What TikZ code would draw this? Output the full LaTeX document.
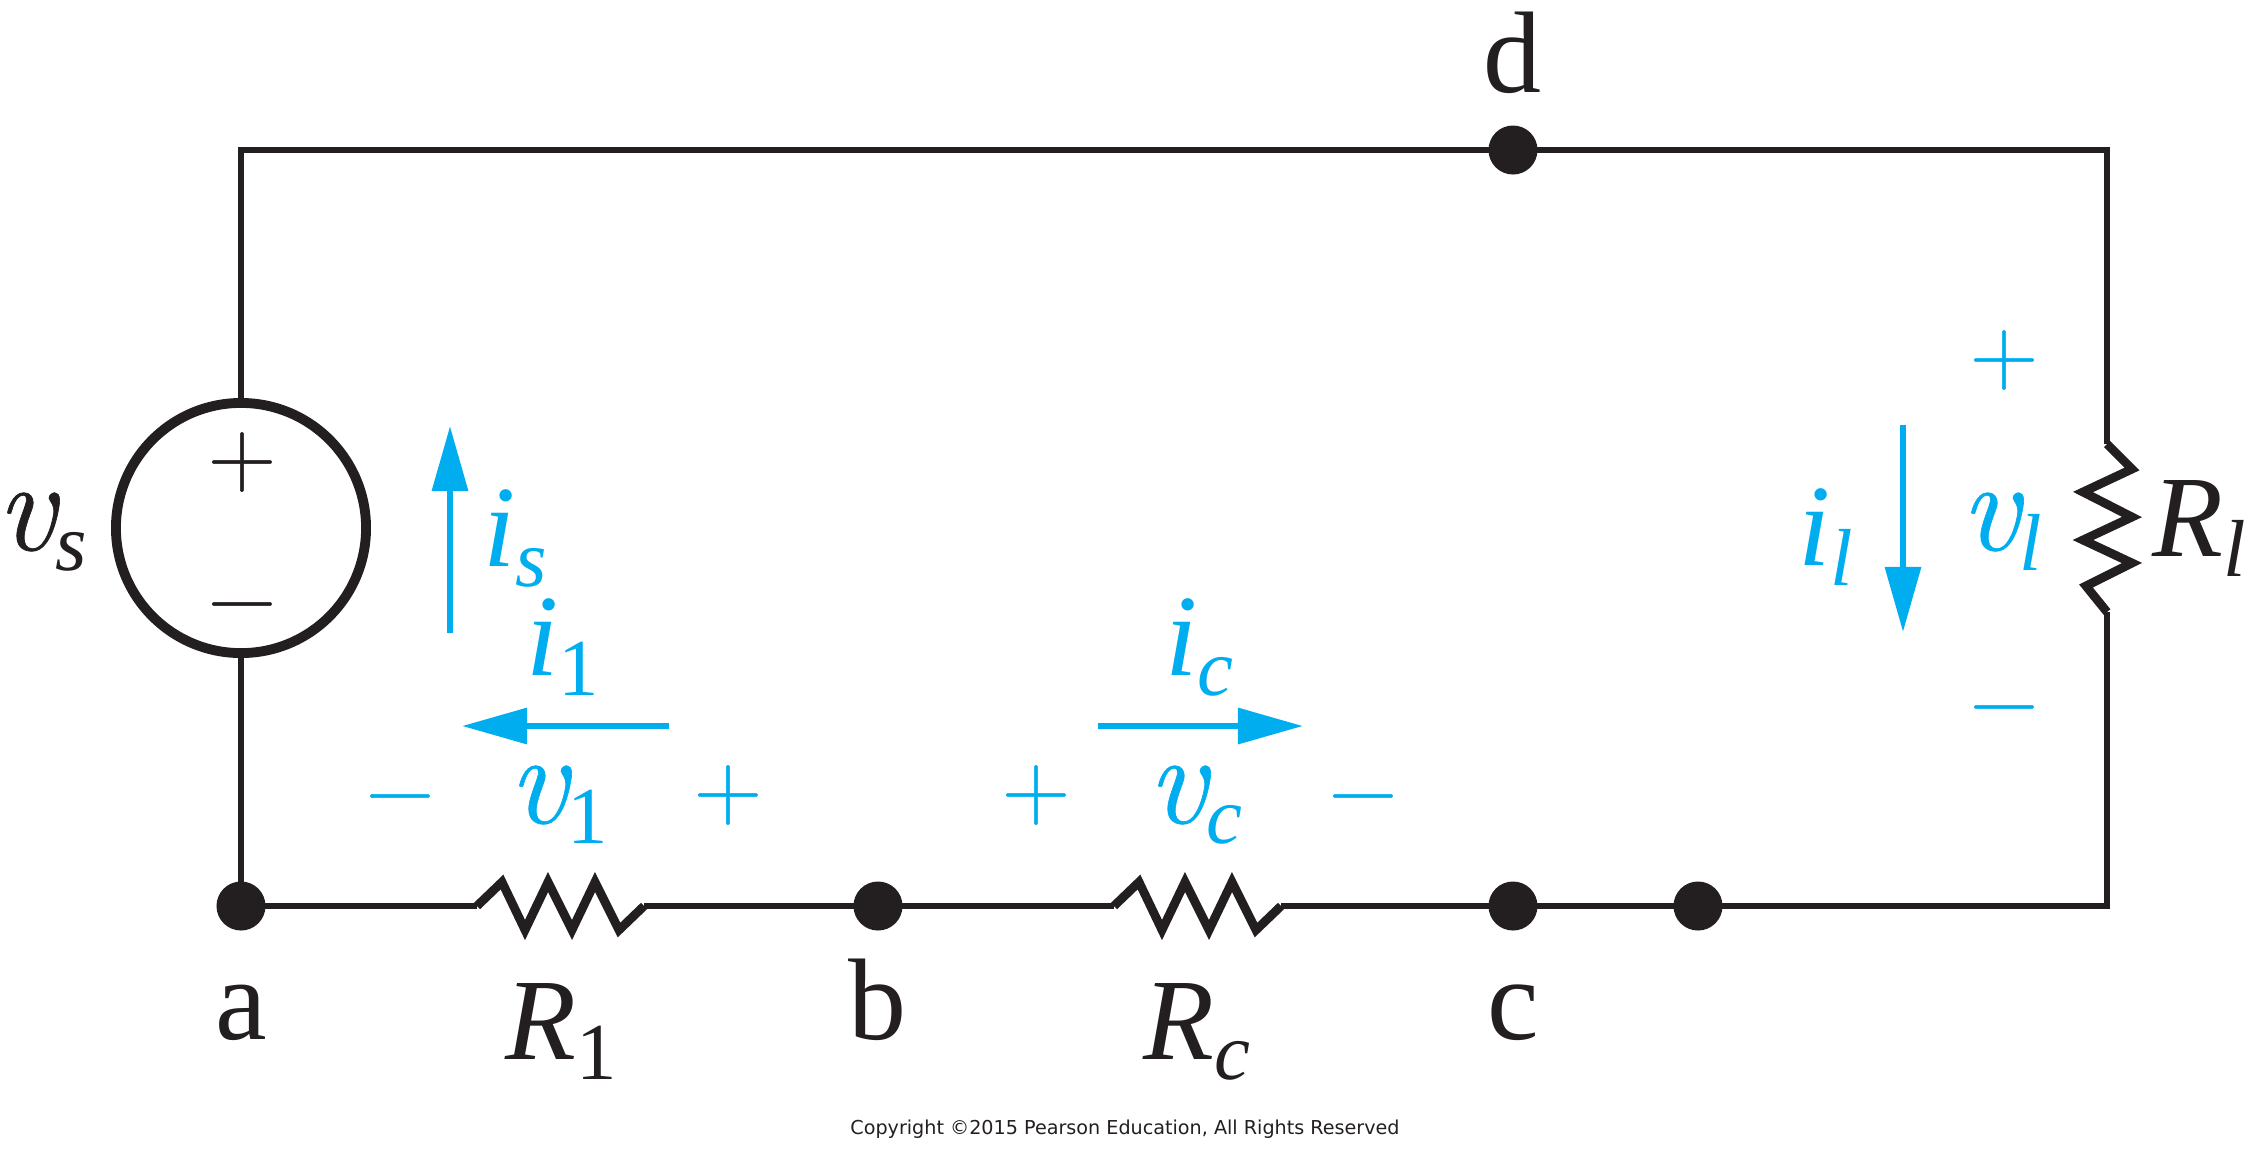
\documentclass[tikz,border=0pt]{standalone}
\usepackage{fontspec}
\setmainfont{Liberation Serif}
\newfontfamily\copyfont{DejaVu Sans}
\newfontfamily\lmfont[FakeBold=0.5]{Latin Modern Roman}
\usetikzlibrary{arrows.meta}
\definecolor{inkblack}{HTML}{231F20}
\definecolor{cyanblue}{HTML}{00AEEF}
\newcommand{\symb}[2]{\textit{#1}\raisebox{-5.7pt}{\fontsize{23}{24}\selectfont #2}}
\newcommand{\symv}[1]{{\lmfont\itshape\fontsize{37}{40}\selectfont v}\raisebox{-5.7pt}{\fontsize{23}{24}\selectfont #1}}
\tikzset{
  wire/.style={draw=inkblack,line width=1.8pt},
  res/.style={draw=inkblack,line width=2.5pt,miter limit=10},
  dot/.style={circle,fill=inkblack,inner sep=0pt,outer sep=0pt,minimum size=0.49cm},
  cur/.style={draw=cyanblue,line width=1.8pt,-{Triangle[length=0.65cm,width=0.35cm]}},
  lab/.style={inner sep=0pt,text=inkblack,font=\fontsize{33}{36}\selectfont},
  blab/.style={lab,text=cyanblue},
  sgn/.style={lab,anchor=center,font=\lmfont\fontsize{27}{30}\selectfont},
  bsgn/.style={sgn,text=cyanblue}
}
\begin{document}
\begin{tikzpicture}[x=0.01cm,y=-0.01cm]
\useasboundingbox (0,0) rectangle (2250,1153);
% source and junctions
\node[circle,draw=inkblack,line width=2.8pt,outer sep=0pt,minimum size=2.5cm,inner sep=0pt] (vs) at (241,528) {};
\node[dot] (a) at (241,906) {};
\node[dot] (b) at (878,906) {};
\node[dot] (c) at (1513,906) {};
\node[dot] (e) at (1698,906) {};
\node[dot] (d) at (1513,150) {};
\coordinate (tl) at (241,150);
\coordinate (tr) at (2107,150);
\coordinate (br) at (2107,906);
\coordinate (r1l) at (477,906);
\coordinate (r1r) at (644,906);
\coordinate (rcl) at (1114,906);
\coordinate (rcr) at (1281,906);
\coordinate (rlt) at (2107,444);
\coordinate (rlb) at (2107,612);
% wires
\draw[wire] (vs.north) -- (tl) -- (d.center) -- (tr) -- (rlt);
\draw[wire] (rlb) -- (br) -- (e.center) -- (c.center);
\draw[wire] (c.center) -- (rcr);
\draw[wire] (rcl) -- (b.center) -- (r1r);
\draw[wire] (r1l) -- (a.center) -- (vs.south);
% resistors
\draw[res] (r1l) -- ++(25,-24) -- ++(23,48) -- ++(23,-48) -- ++(24,48) -- ++(23,-48) -- ++(24,48) -- (r1r);
\draw[res] (rcl) -- ++(25,-24) -- ++(23,48) -- ++(23,-48) -- ++(24,48) -- ++(23,-48) -- ++(24,48) -- (rcr);
\draw[res] (rlt) -- (2132,469) -- (2083,492) -- (2132,517) -- (2083,540) -- (2132,563) -- (2086,586) -- (rlb);
% currents
\coordinate (isa) at (450,633);
\coordinate (isb) at (450,426);
\coordinate (i1a) at (669,726);
\coordinate (i1b) at (462,726);
\coordinate (ica) at (1098,726);
\coordinate (icb) at (1303,726);
\coordinate (ila) at (1903,425);
\coordinate (ilb) at (1903,632);
\draw[cur] (isa) -- (isb);
\draw[cur] (i1a) -- (i1b);
\draw[cur] (ica) -- (icb);
\draw[cur] (ila) -- (ilb);
% polarity marks
\node[sgn] (sp) at (242,462) {+};
\node[sgn] (sm) at (242,615) {−};
\node[bsgn] (v1m) at (400,807) {−};
\node[bsgn] (v1p) at (728,795) {+};
\node[bsgn] (vcp) at (1036,795) {+};
\node[bsgn] (vcm) at (1363,807) {−};
\node[bsgn] (vlp) at (2004,360) {+};
\node[bsgn] (vlm) at (2004,718) {−};
% labels
\node[lab,anchor=base] (la) at (241,1039) {a};
\node[lab,anchor=base] (lb) at (878,1039) {b};
\node[lab,anchor=base] (lc) at (1513,1039) {c};
\node[lab,anchor=base] (ld) at (1513,92) {d};
\node[lab,anchor=base west] (lvs) at (-4,550) {\symv{\textit{s}}};
\node[lab,anchor=base west] (lr1) at (505,1059) {\symb{R}{1}};
\node[lab,anchor=base west] (lrc) at (1143,1059) {\symb{R}{\textit{c}}};
\node[lab,anchor=base west] (lrl) at (2152,556) {\symb{R}{\textit{l}}};
\node[blab,anchor=base west] (lis) at (483,566) {\symb{i}{\textit{s}}};
\node[blab,anchor=base west] (li1) at (526,675) {\symb{i}{1}};
\node[blab,anchor=base west] (lic) at (1165,675) {\symb{i}{\textit{c}}};
\node[blab,anchor=base west] (lil) at (1798,565) {\symb{i}{\textit{l}}};
\node[blab,anchor=base west] (lv1) at (508,823) {\symv{1}};
\node[blab,anchor=base west] (lvc) at (1147,823) {\symv{\textit{c}}};
\node[blab,anchor=base west] (lvl) at (1960,550) {\symv{\textit{l}}};
\node[inner sep=0pt,anchor=base,text=inkblack,font=\copyfont\fontsize{5.45}{6}\selectfont] (copy) at (1125,1134) {Copyright ©2015 Pearson Education, All Rights Reserved};
\end{tikzpicture}
\end{document}
